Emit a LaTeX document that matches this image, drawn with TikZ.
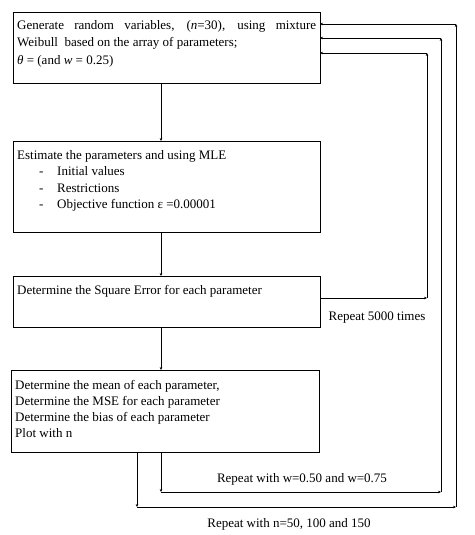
\documentclass[tikz,border=0pt]{standalone}
\usepackage{fontspec}
\setmainfont{Liberation Serif}
\usetikzlibrary{arrows.meta}
\begin{document}
\begin{tikzpicture}[x=1pt,y=-1pt,
  box/.style={draw, line width=0.8pt, anchor=north west, inner sep=0pt, outer sep=0pt},
  txt/.style={anchor=base west, inner sep=0pt, font=\fontsize{13}{16}\selectfont},
  lbl/.style={anchor=base, inner sep=0pt, font=\fontsize{13}{16}\selectfont},
  arr/.style={line width=0.7pt, -{Stealth[length=3pt,width=2.6pt]}}]
\useasboundingbox (0,0) rectangle (474,535);
% boxes
\node[box, minimum width=307pt, minimum height=71pt] (b1) at (13,12) {};
\node[box, minimum width=307pt, minimum height=91pt] (b2) at (13,141) {};
\node[box, minimum width=307pt, minimum height=51pt] (b3) at (13,276) {};
\node[box, minimum width=308pt, minimum height=82pt] (b4) at (11,370) {};
% box 1 text
\node[txt] (t11) at (17,30) {\makebox[299pt][s]{Generate random variables, (\textit{n}=30), using mixture}};
\node[txt] (t12) at (17,47) {Weibull\ \ based on the array of parameters;};
\node[txt] (t13) at (17,64) {\textit{θ} = (and \textit{w} = 0.25)};
% box 2 text
\node[txt] (t21) at (17,159) {Estimate the parameters and using MLE};
\node[txt] (d22) at (39,175) {-};
\node[txt] (t22) at (57,175) {Initial values};
\node[txt] (d23) at (39,192) {-};
\node[txt] (t23) at (57,192) {Restrictions};
\node[txt] (d24) at (39,208) {-};
\node[txt] (t24) at (57,208) {Objective function ε =0.00001};
% box 3 text
\node[txt] (t31) at (17,294) {Determine the Square Error for each parameter};
% box 4 text
\node[txt] (t41) at (15,389) {Determine the mean of each parameter,};
\node[txt] (t42) at (15,405) {Determine the MSE for each parameter};
\node[txt] (t43) at (15,421) {Determine the bias of each parameter};
\node[txt] (t44) at (15,437) {Plot with n};
% labels
\node[lbl] (l1) at (377,320) {Repeat 5000 times};
\node[lbl] (l2) at (302,482) {Repeat with w=0.50 and w=0.75};
\node[lbl] (l3) at (289,527) {Repeat with n=50, 100 and 150};
% main flow
\coordinate (m) at (161,0);
\draw[arr] (b1.south -| m) -- (b2.north -| m);
\draw[arr] (b2.south -| m) -- (b3.north -| m);
\draw[arr] (b3.south -| m) -- (b4.north -| m);
% loop A
\coordinate (a1) at (427,298);
\coordinate (a2) at (427,53);
\draw[arr] (b3.east |- a1) -- (a1);
\draw[arr] (a1) -- (a2);
\draw[arr] (a2) -- (b1.east |- a2);
% loop B
\coordinate (bb1) at (161,492);
\coordinate (bb2) at (441,492);
\coordinate (bb3) at (441,38);
\draw[arr] (b4.south -| bb1) -- (bb1);
\draw[arr] (bb1) -- (bb2);
\draw[arr] (bb2) -- (bb3);
\draw[arr] (bb3) -- (b1.east |- bb3);
% loop C
\coordinate (c1) at (137,507);
\coordinate (c2) at (456,507);
\coordinate (c3) at (456,24);
\draw[arr] (b4.south -| c1) -- (c1);
\draw[arr] (c1) -- (c2);
\draw[arr] (c2) -- (c3);
\draw[arr] (c3) -- (b1.east |- c3);
\end{tikzpicture}
\end{document}
